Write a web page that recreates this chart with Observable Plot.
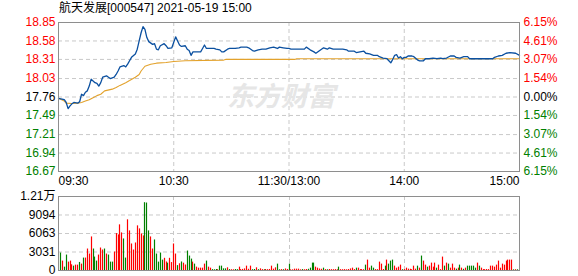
<!DOCTYPE html>
<html><head><meta charset="utf-8">
<script src="https://cdn.jsdelivr.net/npm/d3@7"></script>
<script src="https://cdn.jsdelivr.net/npm/@observablehq/plot@0.6"></script>
<style>
body{margin:0;background:#fff;}
#wrap{width:578px;height:276px;position:relative;font-family:"Liberation Sans","Noto Sans CJK SC",Arial,sans-serif;}
#title{height:14px;line-height:16px;font-size:12px;padding-left:59px;color:#000;white-space:nowrap;}
svg{display:block;}
</style></head><body><div id="wrap"><div id="title"></div></div>
<script>
const title = "航天发展[000547] 2021-05-19 15:00";
const prevClose = 17.76;

// minute price line (minute index from 09:30, price)
const priceMinutes = [0,3,4,5,6,7,8,10,11,12,13,14,15,16,17,19,20,21,22,23,25,26,27,29,30,31,32,34,35,36,37,38,40,41,42,43,44,45,46,47,49,50,51,52,53,55,56,57,59,60,61,62,63,64,66,67,68,69,70,72,74,75,76,77,79,81,82,84,85,86,88,89,92,94,95,98,99,101,102,104,106,108,110,112,114,115,117,119,120,121,124,128,129,131,133,134,136,138,140,141,143,146,148,150,151,154,155,157,159,160,162,164,166,167,169,171,172,173,174,175,176,177,178,179,180,181,182,184,185,187,188,190,191,193,195,197,199,200,202,204,206,207,209,211,213,214,217,220,224,226,227,229,231,233,235,238,240];
const prices = [17.74,17.72,17.68,17.59,17.63,17.66,17.68,17.67,17.69,17.80,17.78,17.83,17.85,17.92,18.02,17.97,17.96,17.92,17.97,18.05,18.07,18.05,18.03,18.05,18.09,18.14,18.20,18.22,18.20,18.24,18.29,18.34,18.39,18.46,18.58,18.70,18.79,18.75,18.63,18.57,18.53,18.54,18.46,18.45,18.51,18.54,18.51,18.47,18.48,18.56,18.64,18.58,18.52,18.50,18.51,18.46,18.44,18.37,18.42,18.42,18.42,18.47,18.52,18.47,18.47,18.47,18.46,18.45,18.42,18.42,18.46,18.47,18.47,18.48,18.49,18.49,18.48,18.44,18.43,18.45,18.46,18.46,18.48,18.49,18.47,18.49,18.48,18.47,18.47,18.46,18.46,18.46,18.49,18.45,18.42,18.40,18.44,18.48,18.46,18.48,18.46,18.46,18.46,18.45,18.43,18.43,18.41,18.42,18.43,18.40,18.39,18.37,18.37,18.35,18.33,18.32,18.29,18.26,18.31,18.37,18.38,18.33,18.35,18.32,18.34,18.34,18.36,18.36,18.35,18.30,18.29,18.29,18.32,18.32,18.33,18.32,18.33,18.32,18.33,18.36,18.36,18.34,18.33,18.35,18.35,18.32,18.32,18.32,18.32,18.32,18.34,18.36,18.37,18.40,18.41,18.40,18.37];

// average price line
const avgMinutes = [0,3,4,7,10,12,14,16,18,20,22,24,28,30,32,35,37,40,42,43,45,48,51,56,60,66,86,87,123,124,240];
const avgPrices = [17.74,17.70,17.67,17.665,17.67,17.68,17.70,17.72,17.75,17.78,17.80,17.85,17.875,17.90,17.93,17.97,18.00,18.05,18.09,18.14,18.21,18.24,18.255,18.265,18.28,18.29,18.30,18.31,18.31,18.32,18.32];

// volume per minute, minutes 1..240 ; r = up, g = down
const volumes = [2860,1540,550,2530,1375,1540,935,715,880,880,1320,1045,2035,2035,3520,2695,5500,3520,2200,1540,
2530,3685,3355,3520,2695,2530,1375,1375,3025,6050,5830,7480,6160,5170,2035,8305,6490,4345,3355,4510,
7315,6820,5995,5665,11110,11055,6490,5500,3520,5005,2695,1375,2860,1700,2000,1400,1200,2000,1300,4345,
2695,800,1100,1400,1200,900,3190,2365,1870,1375,1045,550,385,385,385,1045,1540,550,385,150,
120,160,140,715,715,275,275,440,150,130,120,160,140,550,150,180,260,715,200,715,
130,160,440,140,270,150,120,160,140,170,715,220,440,1045,120,150,130,250,170,1045,
110,110,220,220,220,110,150,130,160,200,385,1210,1210,550,385,250,200,385,150,120,
160,140,130,150,120,550,140,130,150,120,160,260,385,150,385,385,140,150,130,880,
1705,385,715,385,150,140,1375,1045,160,715,1705,1045,1540,1705,715,385,550,880,130,150,
385,220,200,130,715,220,715,385,2365,1540,880,550,715,1210,550,1210,385,880,140,2200,
715,1210,1045,385,1045,385,220,385,880,385,200,385,715,715,715,715,385,1210,715,385,
150,140,160,150,715,715,550,880,1540,385,1045,880,1540,1705,1705,1705,110,130,120,2860];
const volDir = "grggrrrgrrgrgrrrrgggrrrgrgggrrrrrggrrrrrrrrrgggrrgggggrrgrrrrgrgrrgggrgrrrrrgrrg" +
"ggrggggrgrrggrrrrrrrggrgrrgrrrrrrggrgrrgrrrrrrgrrggggrrrrgrgrrrrrgrrrrrrrrgrrrrgrr" +
"ggrrrrrgrgggrrrrgrrrrrrrgrgrrgrrrrgrrrgrgrrrgrgrgrgggggrgrrrrrrrrrrrrrrrrrgrg";

const priceTicks = [16.67,16.94,17.21,17.49,17.76,18.03,18.31,18.58,18.85];
const pctLabels = ["6.15%","4.61%","3.07%","1.54%","0.00%","1.54%","3.07%","4.61%","6.15%"];
const volTicks = [0,3031,6063,9094,12125];
const volLabels = ["0","3031","6063","9094","1.21万"];
const timeTicks = [0,60,120,180,240];
const timeLabels = ["09:30","10:30","11:30/13:00","14:00","15:00"];
const watermark = "东方财富";

const RED = "#ff0000", GREEN = "#008000", BLACK = "#000000";
const GRID = "#c9c9c9", DASH = "4,3", FRAME = "#8e8e8e";
const font = '"Liberation Sans","Noto Sans CJK SC",Arial,sans-serif';

document.getElementById("title").textContent = title;

const priceData = priceMinutes.map((m, i) => ({m, p: prices[i]}));
const avgData = avgMinutes.map((m, i) => ({m, p: avgPrices[i]}));
const tickData = priceTicks.map((v, i) => ({v, pct: pctLabels[i]}));
const up = tickData.filter(d => d.v > prevClose + 1e-9);
const flat = tickData.filter(d => Math.abs(d.v - prevClose) < 1e-9);
const down = tickData.filter(d => d.v < prevClose - 1e-9);
const volData = volumes.map((v, i) => ({m: i + 1, v, dir: volDir[i]}));

function leftLabels(data, color) {
  return Plot.text(data, {y: "v", text: d => d.v.toFixed(2), frameAnchor: "left", textAnchor: "end", dx: -3, fill: color, fontSize: 12});
}
function rightLabels(data, color) {
  return Plot.text(data, {y: "v", text: "pct", frameAnchor: "right", textAnchor: "start", dx: 4, fill: color, fontSize: 12});
}
const tdata = timeTicks.map((t, i) => ({t, s: timeLabels[i]}));

const pricePlot = Plot.plot({
  width: 578, height: 176,
  marginTop: 8, marginBottom: 19, marginLeft: 58, marginRight: 59,
  style: {fontFamily: font, fontSize: "12px", background: "white", overflow: "visible"},
  x: {domain: [0, 240], axis: null},
  y: {domain: [priceTicks[0], priceTicks[priceTicks.length - 1]], axis: null},
  marks: [
    Plot.ruleY(priceTicks.slice(1, -1), {stroke: GRID, strokeDasharray: DASH}),
    Plot.ruleX(timeTicks.slice(1, -1), {stroke: GRID, strokeDasharray: DASH}),
    Plot.text([watermark], {frameAnchor: "middle", dx: -8, dy: 0, text: d => d, fill: "#e6e6e6", fontSize: 27, fontWeight: "bold", fontStyle: "italic", fontFamily: '"Noto Sans CJK SC",sans-serif'}),
    Plot.line(avgData, {x: "m", y: "p", stroke: "#e3a22c", strokeWidth: 1.1}),
    Plot.line(priceData, {x: "m", y: "p", stroke: "#0b50a0", strokeWidth: 1.3}),
    Plot.frame({stroke: FRAME}),
    leftLabels(up, RED), leftLabels(flat, BLACK), leftLabels(down, GREEN),
    rightLabels(up, RED), rightLabels(flat, BLACK), rightLabels(down, GREEN),
    Plot.text(tdata.slice(0, 1), {x: "t", text: "s", frameAnchor: "bottom", lineAnchor: "top", dy: 5, textAnchor: "start", fontSize: 12}),
    Plot.text(tdata.slice(1, -1), {x: "t", text: "s", frameAnchor: "bottom", lineAnchor: "top", dy: 5, textAnchor: "middle", fontSize: 12}),
    Plot.text(tdata.slice(-1), {x: "t", text: "s", frameAnchor: "bottom", lineAnchor: "top", dy: 5, textAnchor: "end", fontSize: 12})
  ]
});

const vtick = volTicks.map((v, i) => ({v, s: volLabels[i]}));
const volPlot = Plot.plot({
  width: 578, height: 86,
  marginTop: 6, marginBottom: 6, marginLeft: 58, marginRight: 59,
  style: {fontFamily: font, fontSize: "12px", background: "white", overflow: "visible"},
  x: {domain: [0, 240], axis: null, round: true},
  y: {domain: [0, volTicks[volTicks.length - 1]], axis: null},
  marks: [
    Plot.ruleY(volTicks.slice(1, -1), {stroke: GRID, strokeDasharray: DASH}),
    Plot.ruleX(timeTicks.slice(1, -1), {stroke: GRID, strokeDasharray: DASH}),
    Plot.ruleX(volData.filter(d => d.dir === "r"), {x: "m", y1: 0, y2: "v", stroke: RED, strokeWidth: 1.2}),
    Plot.ruleX(volData.filter(d => d.dir === "g"), {x: "m", y1: 0, y2: "v", stroke: GREEN, strokeWidth: 1.2}),
    Plot.frame({stroke: FRAME}),
    Plot.text(vtick, {y: "v", text: "s", frameAnchor: "left", textAnchor: "end", dx: -3, fill: BLACK, fontSize: 12})
  ]
});

const wrap = document.getElementById("wrap");
wrap.appendChild(pricePlot);
wrap.appendChild(volPlot);
</script>
</body></html>
